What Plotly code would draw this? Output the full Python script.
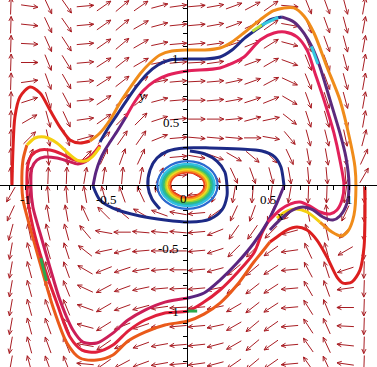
import math
import plotly.graph_objects as go

# ---------------- axis ranges / ticks ----------------
x_range = [-1.157, 1.170]
y_range = [-1.444, 1.468]
x_label_vals = [-1, -0.5, 0.5, 1]
x_label_text = ["-1", "-0.5", "0.5", "1"]
y_label_vals = [1, 0.5, -0.5, -1]
y_label_text = ["1", "0.5", "-0.5", "-1"]

# ---------------- direction field (grid + arrow angles in screen degrees) ----------------
grid_x = [-1.09, -0.975, -0.86, -0.746, -0.631, -0.516, -0.402, -0.287, -0.172, -0.057,
          0.057, 0.172, 0.287, 0.402, 0.516, 0.631, 0.746, 0.86, 0.975, 1.09]
grid_y = [1.42, 1.27, 1.12, 0.972, 0.822, 0.673, 0.523, 0.374, 0.224, 0.075,
          -0.075, -0.224, -0.374, -0.523, -0.673, -0.822, -0.972, -1.12, -1.27, -1.42]
arrow_angle = [
    [88, -8, -65, -55, 5, 35, 40, 35, 15, 8, 5, 10, 20, 28, 35, -5, -68, -70, -75, 80],
    [88, -6, -65, -55, 5, 35, 40, 30, 15, 6, 5, 10, 20, 25, 35, -10, -68, -70, -75, 80],
    [88, -3, -66, -57, 5, 35, 40, 30, 12, 5, 5, 8, 18, 22, 32, -15, -68, -70, -75, 80],
    [88, 0, -68, -58, 5, 33, 38, 30, 12, 5, 3, 8, 15, 20, 30, -20, -68, -70, -75, 80],
    [88, 8, -70, -60, 5, 33, 38, 35, 12, 5, 3, 5, 12, 20, 28, -25, -68, -70, -75, 80],
    [88, 18, -72, -62, 5, 33, 40, 40, 15, 5, 0, 5, 10, 18, 22, -30, -70, -72, -75, 80],
    [88, 30, -75, -65, 8, 35, 45, 45, 18, 5, 0, 0, 5, 15, 12, -38, -72, -74, -75, 80],
    [88, 45, -78, -70, 15, 45, 55, 55, 22, 5, -5, -5, -5, 0, -10, -50, -75, -76, -78, 75],
    [90, 65, -85, -80, 45, 65, 70, 65, 35, 5, -10, -20, -30, -40, -45, -65, -80, -80, -82, 65],
    [92, 82, 88, 88, 80, 82, 85, 80, 65, 5, -30, -55, -65, -70, -75, -80, -85, -85, -86, 60],
    [-120, 94, 95, 95, 100, 105, 110, 115, 125, 150, -175, -115, -100, -95, -98, -100, -92, -92, -98, -88],
    [-115, 98, 100, 100, 115, 135, 140, 150, 160, 170, -175, -145, -115, -110, -115, -135, 100, 95, -115, -90],
    [-105, 102, 104, 105, 130, 170, 180, 175, 175, 175, -175, -158, -125, -125, -135, -165, 110, 102, -135, -92],
    [-100, 105, 106, 108, 142, -168, -165, -175, 180, 180, -175, -162, -135, -135, -145, -172, 115, 105, -150, -92],
    [-100, 105, 108, 110, 150, -158, -162, -170, -175, 180, -175, -165, -140, -140, -147, -175, 118, 108, -162, -92],
    [-100, 105, 110, 112, 155, -152, -160, -168, -175, -177, -175, -168, -145, -142, -147, -175, 120, 110, -172, -92],
    [-100, 105, 110, 112, 160, -150, -160, -165, -172, -177, -175, -168, -150, -142, -147, -175, 122, 112, 180, -92],
    [-100, 105, 110, 112, 165, -148, -158, -162, -172, -175, -175, -168, -150, -140, -145, -175, 123, 114, 177, -92],
    [-100, 105, 110, 112, 170, -145, -155, -160, -170, -175, -174, -165, -150, -140, -145, -175, 125, 115, 174, -92],
    [-100, 105, 110, 112, 175, -145, -152, -160, -170, -175, -172, -165, -145, -140, -145, -175, 125, 115, 172, -92],
]

# ---------------- trajectories ----------------
red_left_x = [-1.083, -1.077, -1.065, -1.034, -0.972, -0.910, -0.849, -0.787, -0.725, -0.664, -0.602]
red_left_y = [0.0, 0.278, 0.540, 0.698, 0.778, 0.730, 0.595, 0.460, 0.357, 0.333, 0.349]

orange_top_x = [-0.602, -0.540, -0.478, -0.417, -0.355, -0.293, -0.231, -0.170, -0.096, 0.003, 0.108,
                0.201, 0.275, 0.355, 0.448, 0.528, 0.596, 0.657, 0.719, 0.781, 0.861, 0.941, 1.003,
                1.034, 1.040, 1.028, 0.991, 0.948, 0.892, 0.818]
orange_top_y = [0.349, 0.413, 0.516, 0.651, 0.770, 0.881, 0.968, 1.032, 1.063, 1.071, 1.071,
                1.087, 1.135, 1.214, 1.310, 1.381, 1.405, 1.405, 1.341, 1.206, 0.937, 0.675, 0.357,
                0.143, -0.016, -0.238, -0.365, -0.405, -0.373, -0.294]

yellow_right_x = [0.818, 0.738, 0.670, 0.602, 0.552]
yellow_right_y = [-0.294, -0.214, -0.190, -0.214, -0.262]

navy_top_x = [-0.540, -0.497, -0.435, -0.373, -0.312, -0.250, -0.182, -0.108, -0.003, 0.108, 0.201,
              0.275, 0.355, 0.448, 0.509, 0.583]
navy_top_y = [0.341, 0.437, 0.556, 0.675, 0.786, 0.881, 0.952, 0.992, 1.0, 1.0, 1.016,
              1.071, 1.167, 1.254, 1.310, 1.333]

purple_right_x = [0.583, 0.657, 0.719, 0.769, 0.818, 0.880, 0.941, 0.978, 0.997, 0.985, 0.941,
                  0.898, 0.836, 0.775, 0.713, 0.651, 0.590, 0.509]
purple_right_y = [1.333, 1.294, 1.206, 1.095, 0.937, 0.675, 0.413, 0.222, 0.0, -0.143, -0.246,
                  -0.278, -0.254, -0.198, -0.175, -0.198, -0.254, -0.357]

purple_left_x = [-0.583, -0.565, -0.540, -0.509, -0.478, -0.429, -0.380]
purple_left_y = [-0.008, 0.103, 0.198, 0.278, 0.341, 0.437, 0.540]

pink_top_x = [-0.380, -0.330, -0.275, -0.201, -0.120, -0.003, 0.201, 0.349, 0.448, 0.534, 0.602,
              0.676, 0.738, 0.787, 0.843, 0.904, 0.941, 0.966, 0.954, 0.923, 0.880, 0.818, 0.756,
              0.694, 0.633, 0.571, 0.497]
pink_top_y = [0.540, 0.651, 0.746, 0.825, 0.873, 0.905, 0.929, 1.016, 1.151, 1.206, 1.214,
              1.175, 1.071, 0.889, 0.675, 0.413, 0.198, 0.0, -0.119, -0.198, -0.230, -0.214, -0.167,
              -0.135, -0.151, -0.198, -0.294]

bottom_a_purple_x = [0.596, 0.552, 0.491, 0.410, 0.306, 0.201, 0.102, 0.003]
bottom_a_purple_y = [-0.008, -0.143, -0.302, -0.460, -0.619, -0.754, -0.857, -0.897]
bottom_a_x = [0.003, -0.139, -0.262, -0.367, -0.460, -0.559, -0.645, -0.707, -0.787, -0.849, -0.910,
              -0.954, -0.966, -0.960, -0.929, -0.880, -0.806, -0.738, -0.676, -0.614, -0.571]
bottom_a_y = [-0.897, -0.929, -0.992, -1.071, -1.175, -1.254, -1.246, -1.151, -0.913, -0.651, -0.381,
              -0.175, -0.016, 0.135, 0.198, 0.222, 0.214, 0.190, 0.167, 0.198, 0.262]

bottom_b_x = [0.497, 0.460, 0.410, 0.306, 0.201, 0.102, 0.003, -0.139, -0.262, -0.367, -0.460, -0.559,
              -0.651, -0.725, -0.806, -0.892, -0.954, -0.985, -0.991, -0.985, -0.960, -0.910, -0.849,
              -0.775, -0.713, -0.651, -0.590, -0.540]
bottom_b_y = [-0.294, -0.381, -0.540, -0.698, -0.833, -0.929, -1.0, -1.016, -1.071, -1.159, -1.270, -1.325,
              -1.310, -1.206, -0.937, -0.619, -0.333, -0.119, 0.0, 0.159, 0.238, 0.278, 0.278,
              0.246, 0.206, 0.190, 0.238, 0.317]

red_right_x = [1.096, 1.096, 1.090, 1.065, 1.015, 0.960, 0.923, 0.861, 0.799, 0.738, 0.676, 0.614, 0.552, 0.509]
red_right_y = [-0.016, -0.238, -0.492, -0.675, -0.770, -0.778, -0.730, -0.571, -0.437, -0.357, -0.333, -0.357, -0.413, -0.452]

orange_bottom_x = [0.509, 0.460, 0.410, 0.306, 0.201, 0.102, 0.003, -0.139, -0.262, -0.367, -0.460, -0.559,
                   -0.664, -0.744, -0.830, -0.910, -0.972, -1.015, -1.022, -1.015, -0.991]
orange_bottom_y = [-0.452, -0.532, -0.611, -0.794, -0.937, -1.024, -1.079, -1.111, -1.167, -1.238, -1.349, -1.389,
                   -1.373, -1.254, -0.968, -0.619, -0.333, -0.119, 0.0, 0.198, 0.317]

yellow_left_x = [-0.991, -0.941, -0.880, -0.806, -0.738, -0.682, -0.633, -0.583, -0.540]
yellow_left_y = [0.317, 0.373, 0.381, 0.333, 0.254, 0.198, 0.190, 0.230, 0.302]

navy_mid_x = [-0.170, -0.219, -0.244, -0.231, -0.188, -0.120, -0.015, 0.139, 0.324, 0.460, 0.540, 0.577, 0.590, 0.596]
navy_mid_y = [-0.190, -0.111, -0.008, 0.119, 0.214, 0.270, 0.294, 0.294, 0.286, 0.270, 0.222, 0.143, 0.056, -0.008]

navy_low_x = [-0.583, -0.540, -0.460, -0.293, -0.139, 0.015, 0.139, 0.213, 0.244, 0.244, 0.231, 0.182, 0.108, 0.015]
navy_low_y = [-0.008, -0.119, -0.183, -0.246, -0.278, -0.294, -0.270, -0.198, -0.087, -0.008, 0.103, 0.190, 0.246, 0.270]

# small coloured pieces on the big orbits
lime_x = [0.40, 0.46]
lime_y = [1.22, 1.27]
cyan1_x = [0.46, 0.56]
cyan1_y = [1.27, 1.33]
cyan2_x = [0.765, 0.805]
cyan2_y = [1.10, 0.96]
green1_x = [0.003, 0.06]
green1_y = [-1.0, -1.0]
green2_x = [-0.905, -0.87]
green2_y = [-0.58, -0.76]

# concentric closed orbits around the origin (half widths / half heights)
ring_rx = [0.106, 0.117, 0.128, 0.138, 0.148, 0.158, 0.168, 0.186]
ring_ry = [0.100, 0.112, 0.124, 0.135, 0.146, 0.157, 0.168, 0.190]
ring_colors = ["#ee4420", "#f5961c", "#f0dc20", "#9ed232", "#38c070", "#28b4a8",
               "#30c0e0", "#2a6ad0"]

# ---------------- build figure ----------------
W, H = 377, 367
sx = W / (x_range[1] - x_range[0])
sy = H / (y_range[1] - y_range[0])

ax_, ay_ = [], []
L = 17.0
HL = 5.0
for j, yv in enumerate(grid_y):
    for i, xv in enumerate(grid_x):
        th = math.radians(arrow_angle[j][i])
        dxp, dyp = L * math.cos(th), L * math.sin(th)
        tx, ty = xv - dxp / 2 / sx, yv - dyp / 2 / sy
        hx, hy = xv + dxp / 2 / sx, yv + dyp / 2 / sy
        ax_ += [tx, hx, None]
        ay_ += [ty, hy, None]
        for d in (25, -25):
            b = th + math.pi + math.radians(d)
            ax_ += [hx, hx + HL * math.cos(b) / sx, None]
            ay_ += [hy, hy + HL * math.sin(b) / sy, None]

fig = go.Figure()
fig.add_trace(go.Scatter(x=ax_, y=ay_, mode="lines",
                         line=dict(color="#a81c22", width=1), hoverinfo="skip"))

curves = [
    (red_left_x, red_left_y, "#dc1f1f"),
    (orange_bottom_x, orange_bottom_y, "#ea5a1a"),
    (red_right_x, red_right_y, "#dc1f1f"),
    (bottom_b_x, bottom_b_y, "#e0203c"),
    (bottom_a_x, bottom_a_y, "#cc1f58"),
    (bottom_a_purple_x, bottom_a_purple_y, "#5a2580"),
    (yellow_left_x, yellow_left_y, "#f5cf10"),
    (orange_top_x, orange_top_y, "#f08c1a"),
    (yellow_right_x, yellow_right_y, "#f5cf10"),
    (pink_top_x, pink_top_y, "#e2215a"),
    (purple_left_x, purple_left_y, "#5a2580"),
    (navy_top_x, navy_top_y, "#1f2a86"),
    (purple_right_x, purple_right_y, "#5d2a7c"),
    (navy_mid_x, navy_mid_y, "#1c2a86"),
    (navy_low_x, navy_low_y, "#1c2a86"),
    (lime_x, lime_y, "#b6e03a"),
    (cyan1_x, cyan1_y, "#35c8e0"),
    (cyan2_x, cyan2_y, "#35c8e0"),
    (green1_x, green1_y, "#2aa84a"),
    (green2_x, green2_y, "#2aa84a"),
]
for cx, cy, col in curves:
    fig.add_trace(go.Scatter(x=cx, y=cy, mode="lines",
                             line=dict(color=col, width=3, shape="spline", smoothing=0.8),
                             hoverinfo="skip"))

shapes = []
for rx, ry, col in zip(ring_rx, ring_ry, ring_colors):
    shapes.append(dict(type="circle", xref="x", yref="y",
                       x0=-rx, x1=rx, y0=-ry, y1=ry,
                       line=dict(color=col, width=2.2)))

ann = []
font = dict(family="Liberation Serif, Times New Roman, serif", size=13, color="black")
for v, t in zip(x_label_vals, x_label_text):
    ann.append(dict(x=v, y=-0.111, text=t, showarrow=False, font=font,
                    xanchor="center", yanchor="middle"))
for v, t in zip(y_label_vals, y_label_text):
    ann.append(dict(x=-0.04, y=v, text=t, showarrow=False, font=font,
                    xanchor="right", yanchor="middle"))
ann.append(dict(x=-0.025, y=-0.11, text="0", showarrow=False, font=font,
                xanchor="center", yanchor="middle"))
ann.append(dict(x=0.577, y=-0.238, text="x", showarrow=False, font=font))
ann.append(dict(x=-0.275, y=0.714, text="y", showarrow=False, font=font))

x_pos = (0 - y_range[0]) / (y_range[1] - y_range[0])
y_pos = (0 - x_range[0]) / (x_range[1] - x_range[0])

fig.update_layout(
    width=W, height=H, autosize=False,
    margin=dict(l=0, r=0, t=0, b=0),
    paper_bgcolor="white", plot_bgcolor="white",
    showlegend=False,
    shapes=shapes, annotations=ann,
    xaxis=dict(range=x_range, anchor="free", position=x_pos, showgrid=False, zeroline=False,
               showline=True, linecolor="black", linewidth=1,
               ticks="outside", tick0=0, dtick=0.1, ticklen=4, tickcolor="black",
               showticklabels=False),
    yaxis=dict(range=y_range, anchor="free", position=y_pos, showgrid=False, zeroline=False,
               showline=True, linecolor="black", linewidth=1,
               ticks="outside", tick0=0, dtick=0.1, ticklen=4, tickcolor="black",
               showticklabels=False),
)

fig.write_html("out.html", config={"displayModeBar": False},
               post_script="document.body.style.margin='0';")
